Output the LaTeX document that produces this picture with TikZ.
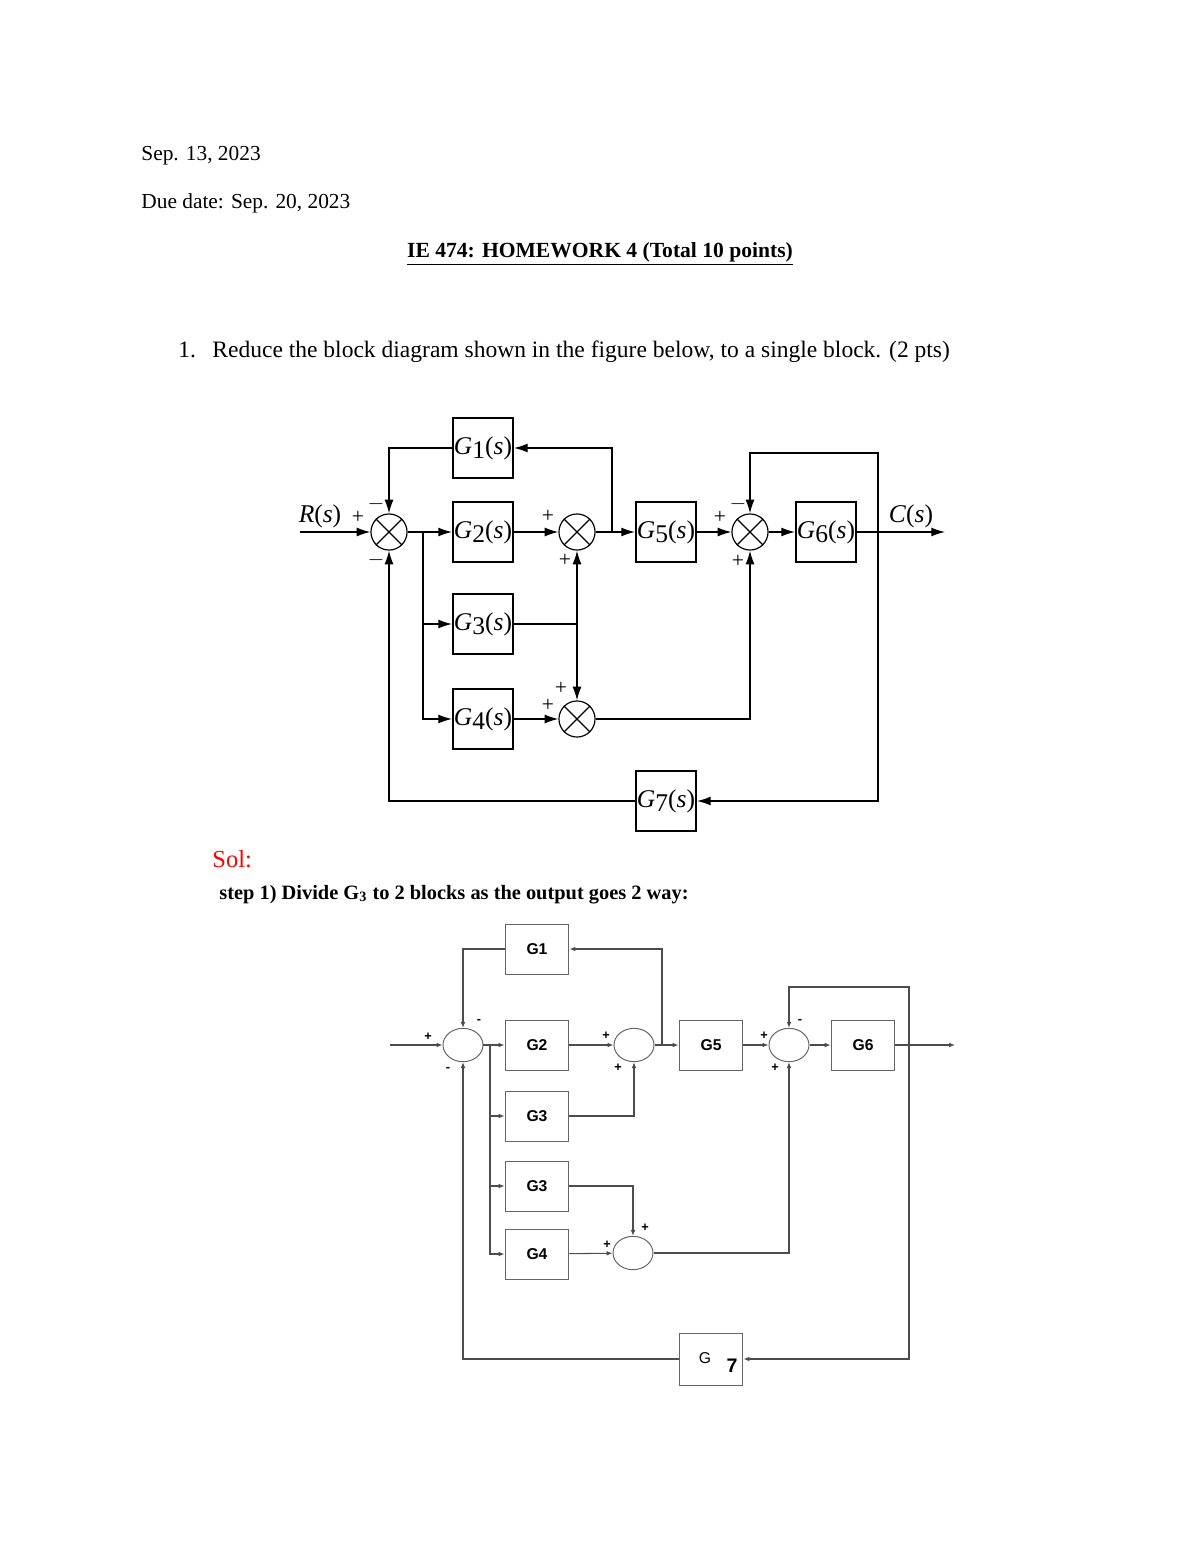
\documentclass[tikz,border=0pt]{standalone}
\usepackage{fontspec}
\setmainfont{Liberation Serif}
\setsansfont{Liberation Sans}
\usetikzlibrary{arrows.meta,shapes.geometric}
\newcommand{\gfont}{\fontsize{13}{13}\selectfont}
\newcommand{\tf}[1]{\textit{G}\raisebox{-0.35ex}{#1}(\textit{s})}
\tikzset{
  blk/.style={draw,line width=1pt,minimum width=30.6pt,minimum height=30.6pt,inner sep=0pt,font=\gfont},
  sumx/.style={draw,circle,line width=0.6pt,minimum size=18.4pt,inner sep=0pt},
  sig/.style={line width=0.7pt,-{Latex[length=7pt,width=4.6pt]}},
  sgn/.style={font=\fontsize{11}{11}\selectfont,inner sep=0pt},
  lbl/.style={font=\gfont,inner sep=0pt},
  box/.style={draw=black!60,line width=0.5pt,minimum width=32.6pt,minimum height=25.5pt,inner sep=0pt,font=\sffamily\bfseries\fontsize{8}{8}\selectfont},
  sume/.style={draw=black!60,ellipse,line width=0.5pt,minimum width=20.4pt,minimum height=17pt,inner sep=0pt},
  wire/.style={draw=black!70,line width=0.55pt,-{Latex[length=3pt,width=2.4pt]}},
  tsgn/.style={font=\sffamily\bfseries\fontsize{6.5}{6.5}\selectfont,inner sep=0pt},
  txt/.style={anchor=base west,inner sep=0pt,font=\fontsize{12}{14}\selectfont},
}
\begin{document}
\begin{tikzpicture}[x=0.51pt,y=-0.51pt]
\useasboundingbox (0,0) rectangle (1200,1553);
% heading
\node[txt,font=\fontsize{10.9}{14}\selectfont] (date) at (141,161) {Sep. 13, 2023};
\node[txt,font=\fontsize{10.9}{14}\selectfont] (due) at (141,209) {Due date: Sep. 20, 2023};
\node[txt,anchor=base,font=\bfseries\fontsize{11}{14}\selectfont] (title) at (600,257) {\underline{IE 474: HOMEWORK 4 (Total 10 points)}};
\node[txt] (num) at (178,357) {1.};
\node[txt] (task) at (212,357) {Reduce the block diagram shown in the figure below, to a single block. (2 pts)};

% given diagram
\node[blk] (g1) at (483,448) {\tf{1}};
\node[blk] (g2) at (483,532) {\tf{2}};
\node[blk] (g3) at (483,624) {\tf{3}};
\node[blk] (g4) at (483,719) {\tf{4}};
\node[blk] (g5) at (666,532) {\tf{5}};
\node[blk] (g6) at (826,532) {\tf{6}};
\node[blk] (g7) at (666,801) {\tf{7}};
\node[sumx] (s1) at (389,532) {};
\node[sumx] (s2) at (577,532) {};
\node[sumx] (s3) at (750,532) {};
\node[sumx] (s4) at (577,719) {};
\foreach \s in {s1,s2,s3,s4}
  \draw[line width=0.6pt] (\s.north west) -- (\s.south east) (\s.north east) -- (\s.south west);
\coordinate (rin) at (300,532);
\coordinate (cout) at (945,532);
\coordinate (b1) at (423,532);
\coordinate (b2) at (612,532);
\coordinate (b3) at (878,532);
\coordinate (t3) at (878,453);
\coordinate (j3) at (577,624);
\draw[sig] (rin) -- (s1);
\draw[sig] (s1) -- (g2);
\draw[sig] (b1) |- (g3);
\draw[sig] (b1) |- (g4);
\draw[sig] (g2) -- (s2);
\draw[sig] (s2) -- (g5);
\draw[sig] (b2) |- (g1);
\draw[sig] (g1) -| (s1);
\draw[line width=0.7pt] (g3) -- (j3);
\draw[sig] (j3) -- (s2);
\draw[sig] (j3) -- (s4);
\draw[sig] (g4) -- (s4);
\draw[sig] (s4) -| (s3);
\draw[sig] (g5) -- (s3);
\draw[sig] (s3) -- (g6);
\draw[sig] (g6) -- (cout);
\draw[sig] (b3) -- (t3) -| (s3);
\draw[sig] (b3) |- (g7);
\draw[sig] (g7) -| (s1);
\node[lbl] (r) at (320,516) {\textit{R}(\textit{s})}; %label
\node[lbl] (c) at (911,516) {\textit{C}(\textit{s})}; %label
\node[sgn] at (358,517) {+};
\node[sgn] at (376,504) {$-$};
\node[sgn] at (376,560) {$-$};
\node[sgn] at (548,516) {+};
\node[sgn] at (565,560) {+};
\node[sgn] at (720,517) {+};
\node[sgn] at (738,504) {$-$};
\node[sgn] at (738,561) {+};
\node[sgn] at (561,688) {+};
\node[sgn] at (548,705) {+};

% solution
\node[txt,text=red,font=\fontsize{12.5}{14}\selectfont] (sol) at (212,867) {Sol:};
\node[txt,font=\bfseries\fontsize{10.4}{13}\selectfont] (step) at (219,899) {step 1) Divide G\textsubscript{3} to 2 blocks as the output goes 2 way:};

% step 1 diagram
\node[box] (h1) at (537,949) {G1};
\node[box] (h2) at (537,1045) {G2};
\node[box] (h3) at (537,1116) {G3};
\node[box] (h3b) at (537,1186) {G3};
\node[box] (h4) at (537,1254) {G4};
\node[box] (h5) at (711,1045) {G5};
\node[box] (h6) at (863,1045) {G6};
\node[box,minimum height=26.5pt] (h7) at (711,1359) {};
\node[font=\sffamily\fontsize{8}{8}\selectfont,inner sep=0pt] (h7g) at (705,1358) {G};
\node[font=\sffamily\bfseries\fontsize{10}{10}\selectfont,inner sep=0pt] (h7n) at (732,1366) {7};
\node[sume] (e1) at (463,1045) {};
\node[sume] (e2) at (634,1045) {};
\node[sume] (e3) at (789,1045) {};
\node[sume] (e4) at (633,1253) {};
\coordinate (in) at (390,1045);
\coordinate (out) at (955,1045);
\coordinate (p1) at (490,1045);
\coordinate (p2) at (662,1045);
\coordinate (p3) at (909,1045);
\coordinate (q3) at (909,987);
\draw[wire] (in) -- (e1);
\draw[wire] (e1) -- (h2);
\draw[wire] (p1) |- (h3);
\draw[wire] (p1) |- (h3b);
\draw[wire] (p1) |- (h4);
\draw[wire] (h2) -- (e2);
\draw[wire] (e2) -- (h5);
\draw[wire] (p2) |- (h1);
\draw[wire] (h1) -| (e1);
\draw[wire] (h3) -| (e2);
\draw[wire] (h3b) -| (e4);
\draw[wire] (h4) -- (e4);
\draw[wire] (e4) -| (e3);
\draw[wire] (h5) -- (e3);
\draw[wire] (e3) -- (h6);
\draw[wire] (h6) -- (out);
\draw[wire] (p3) -- (q3) -| (e3);
\draw[wire] (p3) |- (h7);
\draw[wire] (h7) -| (e1);
\node[tsgn] at (428,1037) {+};
\node[tsgn] at (479,1021) {-};
\node[tsgn] at (448,1069) {-};
\node[tsgn] at (606,1036) {+};
\node[tsgn] at (618,1068) {+};
\node[tsgn] at (764,1036) {+};
\node[tsgn] at (800,1021) {-};
\node[tsgn] at (775,1068) {+};
\node[tsgn] at (607,1245) {+};
\node[tsgn] at (645,1228) {+};
\end{tikzpicture}
\end{document}
